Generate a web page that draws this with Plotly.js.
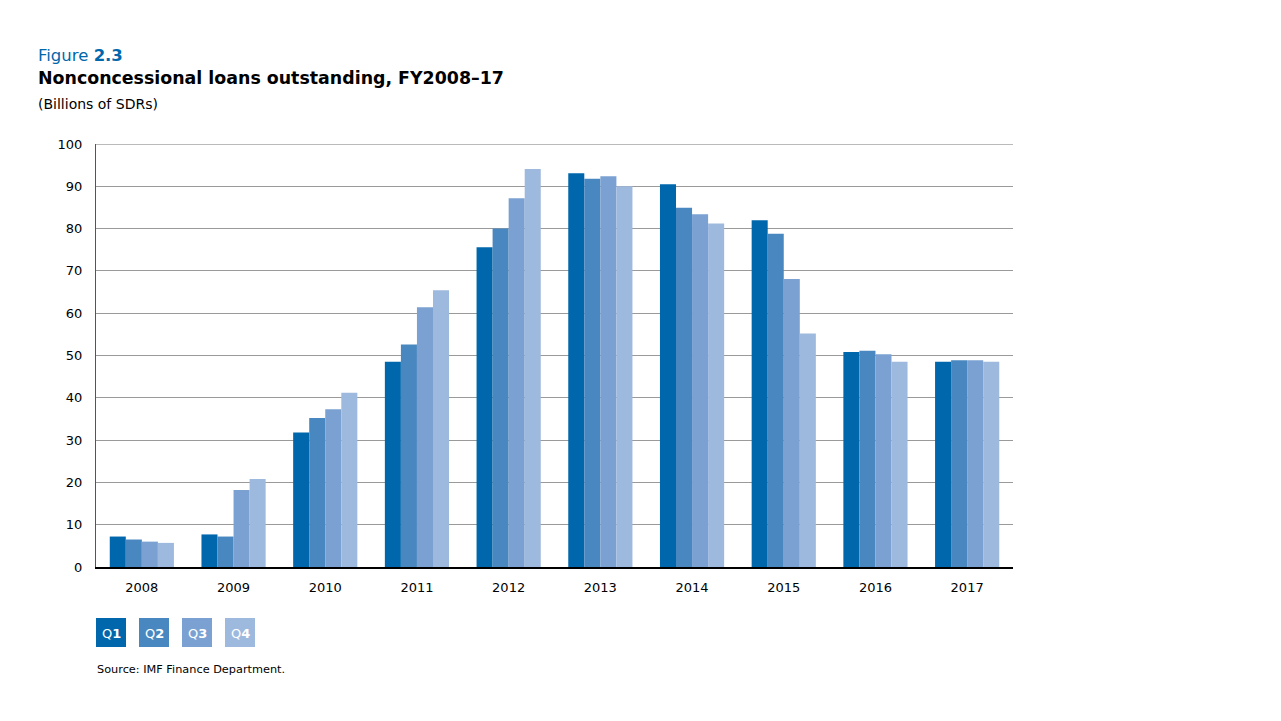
<!DOCTYPE html>
<html>
<head>
<meta charset="utf-8">
<script src="https://cdn.plot.ly/plotly-3.0.1.min.js"></script>
<style>
html,body{margin:0;padding:0;background:#fff;}
#chart{width:1281px;height:721px;}
</style>
</head>
<body>
<div id="chart"></div>
<script>
const years = ['2008','2009','2010','2011','2012','2013','2014','2015','2016','2017'];
const q1 = [7.2, 7.7, 31.8, 48.5, 75.6, 93.1, 90.5, 82.0, 50.8, 48.5];
const q2 = [6.5, 7.2, 35.2, 52.6, 80.0, 91.8, 84.9, 78.8, 51.1, 48.9];
const q3 = [6.0, 18.2, 37.3, 61.4, 87.2, 92.4, 83.4, 68.1, 50.3, 48.9];
const q4 = [5.7, 20.8, 41.2, 65.4, 94.1, 90.0, 81.2, 55.2, 48.5, 48.5];
const quarterNames = ['Q1','Q2','Q3','Q4'];
const quarterLabels = ['Q<b>1</b>','Q<b>2</b>','Q<b>3</b>','Q<b>4</b>'];
const colors = ['#0067ac','#4887c0','#7aa1d2','#9eb9de'];
const yTicks = [0,10,20,30,40,50,60,70,80,90,100];

const FONT = '"DejaVu Sans", "Liberation Sans", Arial, sans-serif';
const series = [q1,q2,q3,q4];

const traces = series.map((vals,i)=>({
  type:'bar',
  x: years,
  y: vals,
  name: quarterNames[i],
  marker:{color:colors[i], line:{width:0}},
  hoverinfo:'x+y+name'
}));

// plot area in pixels: left 96, right 1013, top 144, bottom 567
const L=96, R=1013, T=144, B=567;
const W=R-L, H=B-T;
const px = x => (x-L)/W;
const py = y => (B-y)/H;

const shapes = [
  // top gridline (at the upper end of the y range)
  {type:'line', xref:'paper', yref:'y', x0:0, x1:1, y0:yTicks[yTicks.length-1], y1:yTicks[yTicks.length-1],
   line:{color:'#777', width:1}, layer:'below'}
];
const annotations = [];
quarterLabels.forEach((lab,i)=>{
  const x0 = 96 + i*43;
  shapes.push({type:'rect', xref:'paper', yref:'paper',
    x0:px(x0), x1:px(x0+30), y0:py(647), y1:py(618),
    fillcolor:colors[i], line:{width:0}});
  annotations.push({xref:'paper', yref:'paper', x:px(x0+15), y:py(633),
    xanchor:'center', yanchor:'middle', showarrow:false, text:lab,
    font:{family:FONT, size:13, color:'#ffffff'}});
});

annotations.push(
  {xref:'paper', yref:'paper', x:px(36), y:py(56), xanchor:'left', yanchor:'middle', showarrow:false,
   text:'Figure <b>2.3</b>', font:{family:FONT, size:16.5, color:'#0067ac'}},
  {xref:'paper', yref:'paper', x:px(36), y:py(78), xanchor:'left', yanchor:'middle', showarrow:false,
   text:'<b>Nonconcessional loans outstanding, FY2008–17</b>', font:{family:FONT, size:17.4, color:'#000'}},
  {xref:'paper', yref:'paper', x:px(36), y:py(104), xanchor:'left', yanchor:'middle', showarrow:false,
   text:'(Billions of SDRs)', font:{family:FONT, size:14, color:'#000'}},
  {xref:'paper', yref:'paper', x:px(95), y:py(669), xanchor:'left', yanchor:'middle', showarrow:false,
   text:'Source: IMF Finance Department.', font:{family:FONT, size:11.3, color:'#000'}}
);

const layout = {
  width:1281, height:721,
  margin:{l:L, r:1281-R, t:T, b:721-B, pad:0},
  paper_bgcolor:'#fff', plot_bgcolor:'#fff',
  barmode:'group', bargap:0.3, bargroupgap:0,
  showlegend:false,
  font:{family:FONT, size:13, color:'#000'},
  xaxis:{
    type:'category', showgrid:false, zeroline:false,
    showline:true, linecolor:'#000', linewidth:1.5,
    ticks:'outside', ticklen:8, tickcolor:'rgba(0,0,0,0)',
    tickfont:{family:FONT, size:13, color:'#000'}
  },
  yaxis:{
    range:[0,100], tickvals:yTicks, ticktext:yTicks.map(String),
    showgrid:true, gridcolor:'#9a9a9a', gridwidth:1,
    zeroline:false, showline:true, linecolor:'#555', linewidth:1,
    ticks:'outside', ticklen:10, tickcolor:'rgba(0,0,0,0)',
    tickfont:{family:FONT, size:13, color:'#000'}
  },
  shapes, annotations
};

Plotly.newPlot('chart', traces, layout, {displayModeBar:false, staticPlot:true});
</script>
</body>
</html>
